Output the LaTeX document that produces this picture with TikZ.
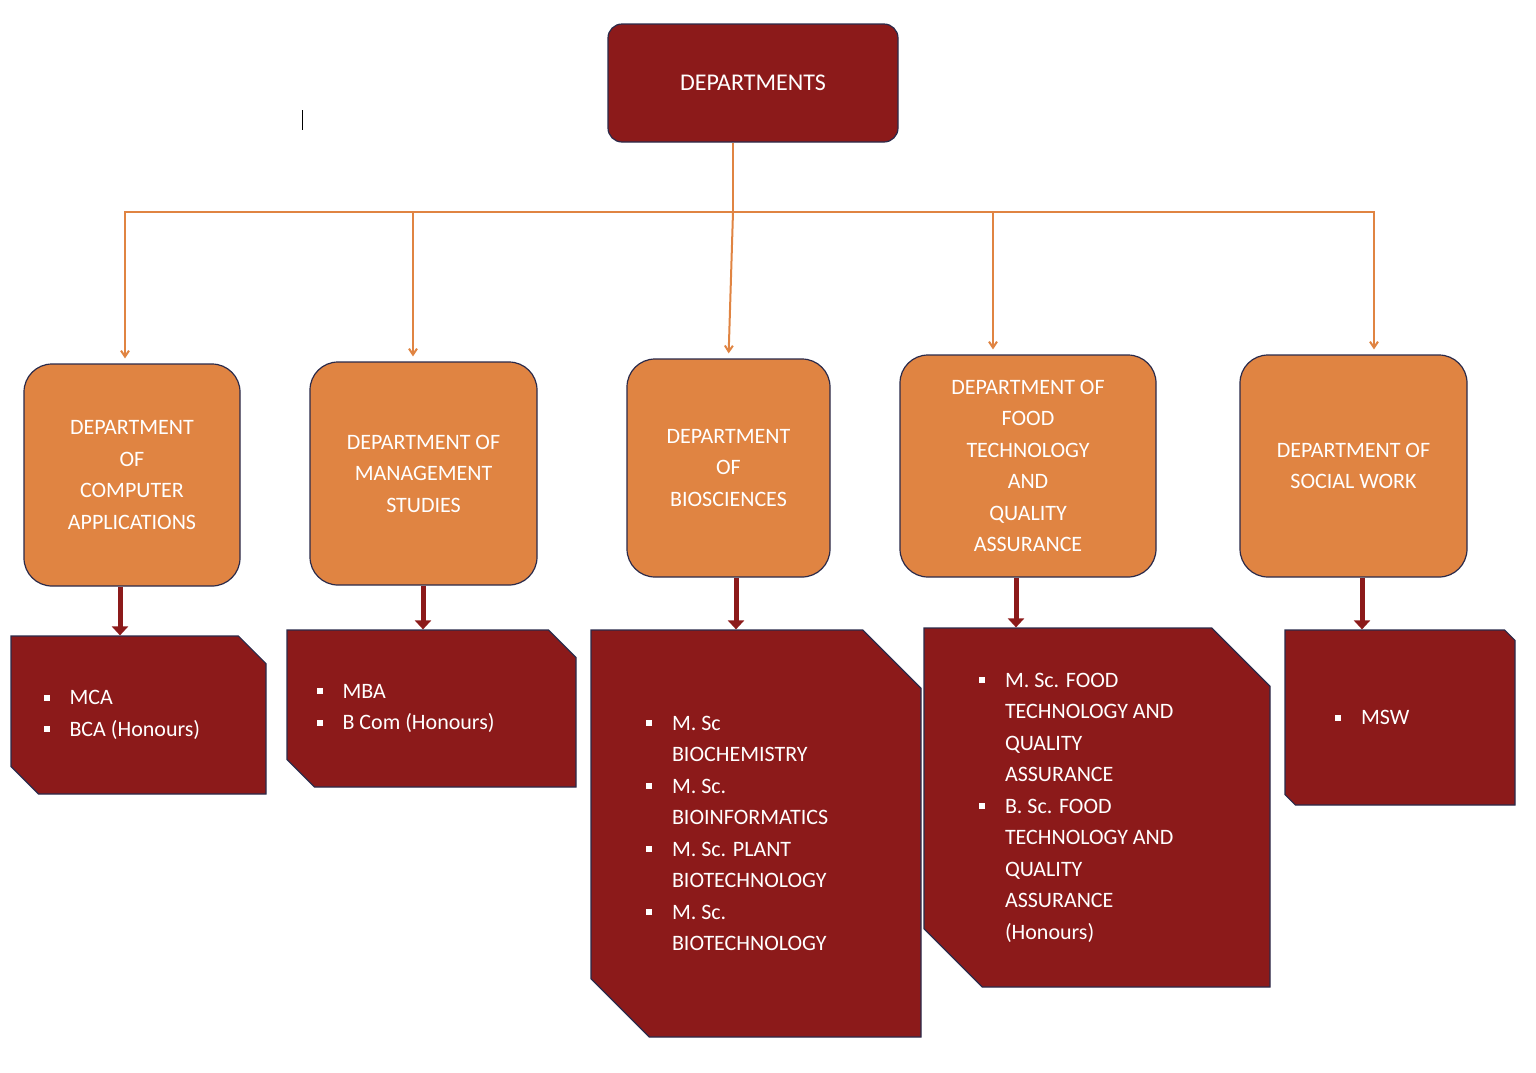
\documentclass[tikz,border=0pt]{standalone}
\usepackage{fontspec}
\setmainfont{Carlito}
\usetikzlibrary{shapes.misc,arrows.meta}
\definecolor{dred}{HTML}{8C1A1A}
\definecolor{org}{HTML}{E08442}
\definecolor{edge}{HTML}{2A2A4A}
\definecolor{ln}{HTML}{E08442}
\newcommand{\bitem}[1]{\par\hangindent=26pt\hangafter=1\noindent\makebox[26pt][l]{\raisebox{4pt}{\rule{6pt}{6pt}}}#1}
\begin{document}
\begin{tikzpicture}[x=1pt,y=-1pt,
 top/.style={draw=edge,line width=1.2pt,fill=dred,rounded corners=14pt,text=white,font=\fontsize{24}{30}\selectfont},
 dep/.style={draw=edge,line width=1.2pt,fill=org,rounded corners=28pt,text=white,align=center,font=\fontsize{22}{31.5}\selectfont,inner sep=0pt},
 lst/.style={draw=edge,line width=1.2pt,fill=dred,text=white,chamfered rectangle,chamfered rectangle corners={north east,south west},chamfered rectangle angle=45,inner sep=0pt,font=\fontsize{22}{31.5}\selectfont},
 oline/.style={draw=ln,line width=2pt},
 oarr/.style={oline,-{Straight Barb[length=6pt,width=8pt]},shorten >=5pt},
 darr/.style={draw=dred,line width=5pt,-{Triangle[length=9pt,width=16pt]}}]
\useasboundingbox (0,0) rectangle (1536,1072);
\draw[line width=1pt] (302,110) -- (302,130);
\node[top,minimum width=290pt,minimum height=118pt] (T) at (753,83) {DEPARTMENTS};
\node[dep,minimum width=216pt,minimum height=222pt] (B1) at (132,475) {DEPARTMENT\\OF\\COMPUTER\\APPLICATIONS};
\node[dep,minimum width=227pt,minimum height=223pt] (B2) at (423.5,473.5) {DEPARTMENT OF\\MANAGEMENT\\STUDIES};
\node[dep,minimum width=203pt,minimum height=218pt] (B3) at (728.5,468) {DEPARTMENT\\OF\\BIOSCIENCES};
\node[dep,minimum width=256pt,minimum height=222pt] (B4) at (1028,466) {DEPARTMENT OF\\FOOD\\TECHNOLOGY\\AND\\QUALITY\\ASSURANCE};
\node[dep,minimum width=227pt,minimum height=222pt] (B5) at (1353.5,466) {DEPARTMENT OF\\SOCIAL WORK};
\node[lst,chamfered rectangle xsep=26pt,minimum width=255pt,minimum height=158pt] (L1) at (138.5,715) {\parbox{190pt}{\bitem{MCA}\bitem{BCA (Honours)}}};
\node[lst,chamfered rectangle xsep=26pt,minimum width=289pt,minimum height=157pt] (L2) at (431.5,708.5) {\parbox{230pt}{\bitem{MBA}\bitem{B Com (Honours)}}};
\node[lst,chamfered rectangle xsep=55pt,minimum width=328pt,minimum height=407pt] (L3) at (756,833.5) {\parbox{220pt}{\bitem{M. Sc\\BIOCHEMISTRY}\bitem{M. Sc.\\BIOINFORMATICS}\bitem{M. Sc. PLANT\\BIOTECHNOLOGY}\bitem{M. Sc.\\BIOTECHNOLOGY}}};
\node[lst,chamfered rectangle xsep=55pt,minimum width=336pt,minimum height=359pt] (L4) at (1097,807.5) {\parbox{236pt}{\bitem{M. Sc. FOOD\\TECHNOLOGY AND\\QUALITY\\ASSURANCE}\bitem{B. Sc. FOOD\\TECHNOLOGY AND\\QUALITY\\ASSURANCE\\(Honours)}}};
\node[lst,chamfered rectangle xsep=28pt,minimum width=230pt,minimum height=175pt] (L5) at (1400,717.5) {\parbox{130pt}{\bitem{MSW}}};
\coordinate (H) at (733,212);
\draw[oline] (T.south-|H) -- (H);
\draw[oarr] (H) -- (B3.north);
\draw[oarr] (H) -| (B1.north-|125,0);
\draw[oarr] (H) -| (B2.north-|413,0);
\draw[oarr] (H) -| (B4.north-|993,0);
\draw[oarr] (H) -| (B5.north-|1374,0);
\draw[darr] (B1.south-|120,0) -- (L1.north-|120,0);
\draw[darr] (B2.south-|423,0) -- (L2.north-|423,0);
\draw[darr] (B3.south-|736,0) -- (L3.north-|736,0);
\draw[darr] (B4.south-|1016,0) -- (L4.north-|1016,0);
\draw[darr] (B5.south-|1362,0) -- (L5.north-|1362,0);
\end{tikzpicture}
\end{document}
